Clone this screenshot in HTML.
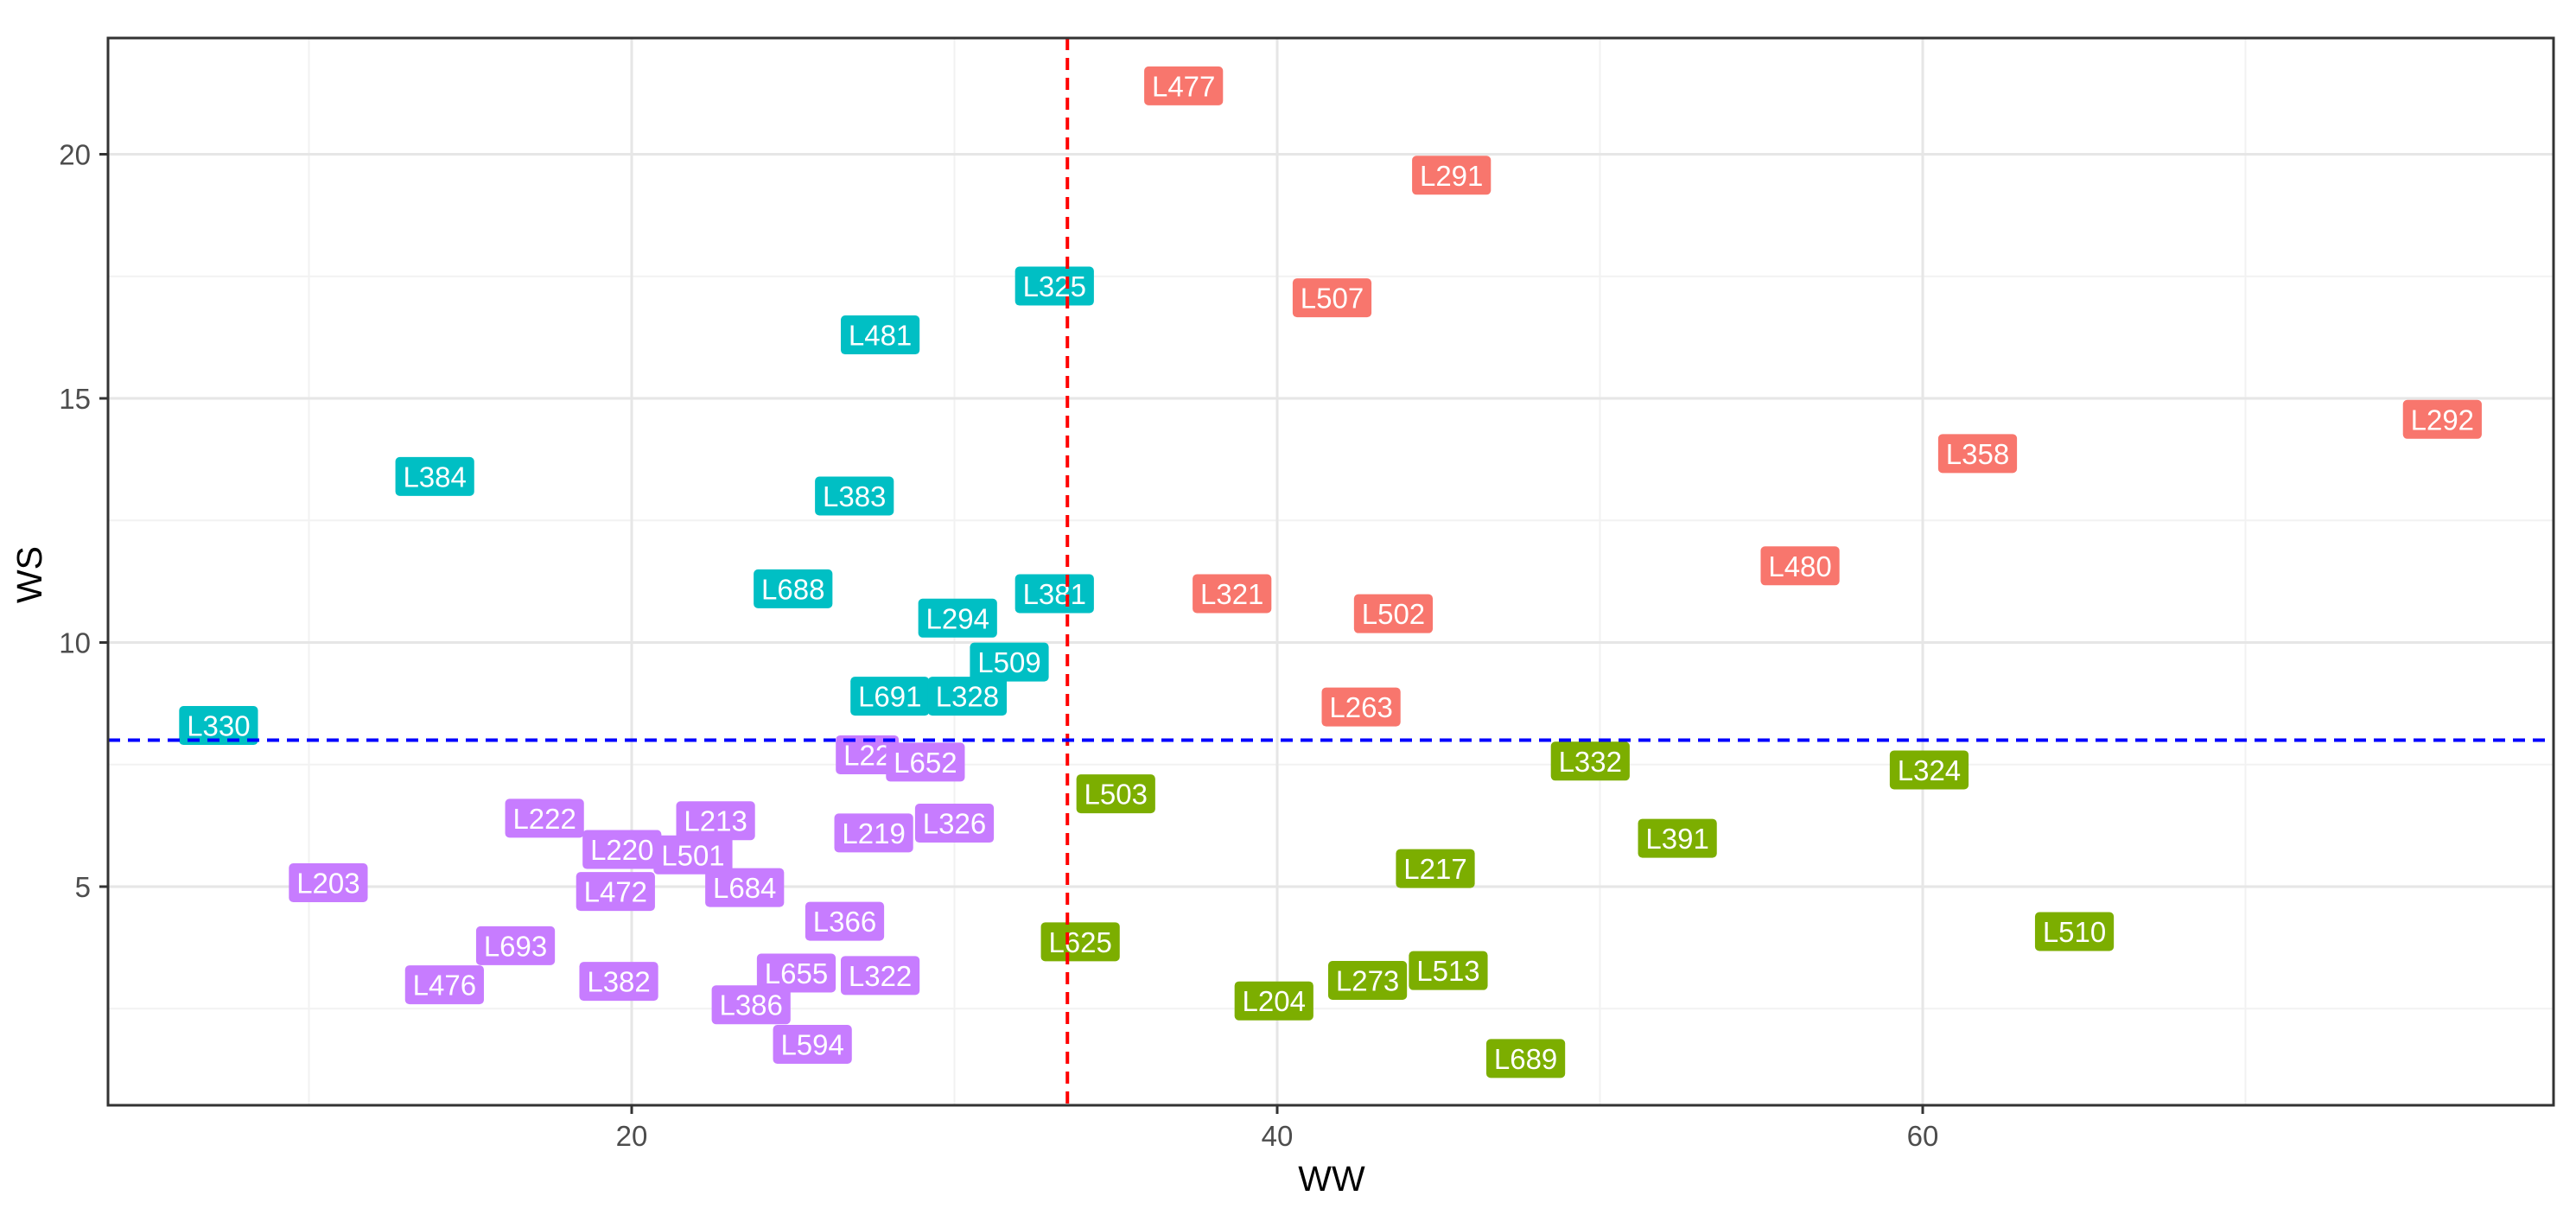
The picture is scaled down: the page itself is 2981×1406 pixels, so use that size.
<!DOCTYPE html>
<html><head><meta charset="utf-8"><style>
html,body{margin:0;padding:0;background:#fff;}
svg{display:block;}
</style></head><body>
<svg id="chart" width="2981" height="1406" xmlns="http://www.w3.org/2000/svg" font-family="Liberation Sans, Arial, sans-serif"></svg>
<script>
const labels = ["L477","L291","L325","L481","L507","L292","L358","L384","L383","L480","L688","L381","L321","L294","L502","L509","L691","L328","L263","L330","L22","L652","L332","L324","L503","L222","L213","L326","L219","L391","L220","L501","L217","L203","L684","L472","L366","L510","L625","L693","L513","L273","L382","L655","L322","L476","L204","L386","L594","L689"];
const wwValues = [37.1,45.4,33.1,27.7,41.7,76.1,61.7,13.9,26.9,56.2,25.0,33.1,38.6,30.1,43.6,31.7,28.0,30.4,42.6,7.2,27.3,29.1,49.7,60.2,35.0,17.3,22.6,30.0,27.5,52.4,19.7,21.9,44.9,10.6,23.5,19.5,26.6,64.7,33.9,16.4,45.3,42.8,19.6,25.1,27.7,14.2,39.9,23.7,25.6,47.7];
const wsValues = [21.4,19.57,17.3,16.3,17.06,14.57,13.87,13.4,13.0,11.57,11.1,11.0,11.0,10.5,10.59,9.6,8.9,8.9,8.68,8.3,7.7,7.55,7.57,7.39,6.9,6.4,6.35,6.3,6.1,5.99,5.76,5.65,5.37,5.08,4.98,4.9,4.29,4.08,3.87,3.79,3.28,3.08,3.06,3.23,3.18,2.99,2.66,2.58,1.77,1.48];
const groups = ["r","r","c","c","r","r","r","c","c","r","c","c","r","c","r","c","c","c","r","c","p","p","g","g","g","p","p","p","p","g","p","p","g","p","p","p","p","g","g","p","g","g","p","p","p","p","g","p","p","g"];
const xTicks = [20,40,60];
const yTicks = [5,10,15,20];
const xMinor = [10,30,50,70];
const yMinor = [2.5,7.5,12.5,17.5];
const vLine = [33.5];
const hLine = [8];

const colors = {r:"#F8766D",g:"#7CAE00",c:"#00BFC4",p:"#C77CFF"};
const L=125,R=2955,T=44,B=1279;
const xMin=3.7, xMax=79.5, yMin=0.52, yMax=22.38;
const xs = v => 731 + (v-20)*37.35;
const ys = v => 1308.5 - v*56.5;
const svg=document.getElementById('chart');
const NS="http://www.w3.org/2000/svg";
function mk(tag,attrs,parent){const e=document.createElementNS(NS,tag);for(const k in attrs)e.setAttribute(k,attrs[k]);(parent||svg).appendChild(e);return e;}

const bg=mk('rect',{x:L,y:T,width:R-L,height:B-T,fill:'#fff'});



xMinor.forEach(v=>{const l=mk('line',{x1:xs(v),x2:xs(v),y1:T,y2:B,stroke:'#f2f2f2','stroke-width':2});

});
yMinor.forEach(v=>{const l=mk('line',{x1:L,x2:R,y1:ys(v),y2:ys(v),stroke:'#f2f2f2','stroke-width':2});

});
xTicks.forEach(v=>{const l=mk('line',{x1:xs(v),x2:xs(v),y1:T,y2:B,stroke:'#e6e6e6','stroke-width':3});


const t=mk('line',{x1:xs(v),x2:xs(v),y1:B,y2:B+10,stroke:'#333','stroke-width':3});


const tx=mk('text',{x:xs(v),y:B+47,'font-size':33,fill:'#4d4d4d','text-anchor':'middle'});tx.textContent=v;

});
yTicks.forEach(v=>{const l=mk('line',{x1:L,x2:R,y1:ys(v),y2:ys(v),stroke:'#e6e6e6','stroke-width':3});


const t=mk('line',{x1:L-10,x2:L,y1:ys(v),y2:ys(v),stroke:'#333','stroke-width':3});


const tx=mk('text',{x:L-20,y:ys(v)+12,'font-size':33,fill:'#4d4d4d','text-anchor':'end'});tx.textContent=v;

});

labels.forEach((lab,i)=>{
  const cx=xs(wwValues[i]), cy=ys(wsValues[i]);
  const w = lab.length*18.3+18, h=45;
  const g=mk('g',{});
  
  
  mk('rect',{x:cx-w/2,y:cy-h/2,width:w,height:h,rx:5,fill:colors[groups[i]]},g);
  const t=mk('text',{x:cx,y:cy+12,'font-size':33,fill:'#fff','text-anchor':'middle'},g);t.textContent=lab;
});

vLine.forEach(v=>{const l=mk('line',{x1:xs(v),x2:xs(v),y1:T,y2:B,stroke:'#ff0000','stroke-width':4,'stroke-dasharray':'14 9'});

});
hLine.forEach(v=>{const l=mk('line',{x1:L,x2:R,y1:ys(v),y2:ys(v),stroke:'#0000ff','stroke-width':4,'stroke-dasharray':'14 9'});

});

const fr=mk('rect',{x:L,y:T,width:R-L,height:B-T,fill:'none',stroke:'#333','stroke-width':3});


const xt=mk('text',{x:1541,y:1378,'font-size':41,fill:'#000','text-anchor':'middle'});xt.textContent='WW';


const yt=mk('text',{x:48,y:665,'font-size':41,fill:'#000','text-anchor':'middle',transform:'rotate(-90 48 665)'});yt.textContent='WS';


</script>
</body></html>
